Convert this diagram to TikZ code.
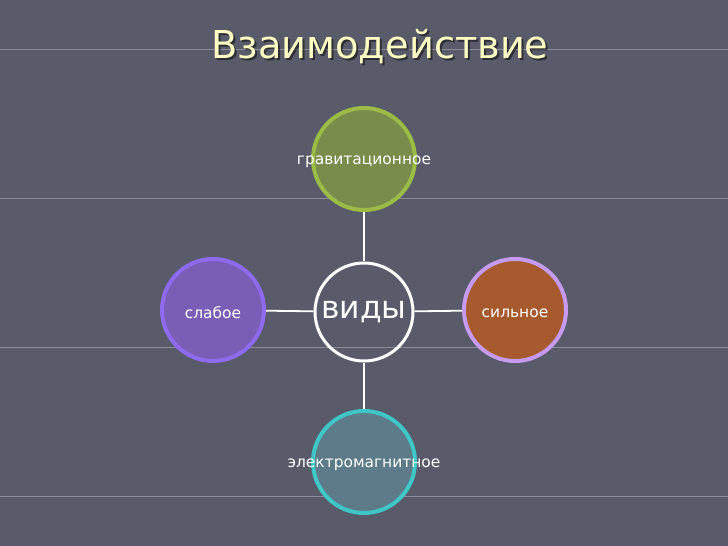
\documentclass[tikz,border=0pt]{standalone}
\usepackage{fontspec}
\setmainfont{DejaVu Sans}
\usetikzlibrary{positioning}
\definecolor{fon}{HTML}{595B6B}
\definecolor{titul}{HTML}{FFFFC4}
\definecolor{gravfill}{HTML}{7A8C4C}
\definecolor{gravline}{HTML}{9CBB46}
\definecolor{slabfill}{HTML}{7A5EB6}
\definecolor{slabline}{HTML}{8D6AEE}
\definecolor{silfill}{HTML}{A65A2E}
\definecolor{silline}{HTML}{C69AEE}
\definecolor{elfill}{HTML}{5D7B88}
\definecolor{elline}{HTML}{3FC6C6}
\tikzset{>=latex}
\tikzset{vid/.style={circle, line width=4bp, minimum size=102bp, inner sep=0pt,
    label={[text=white, yshift=-3bp, font=\fontsize{15.5}{18}\selectfont]center:#1}},
  svyaz/.style={white, line width=1.8bp}}

\begin{document}
\begin{tikzpicture}[x=1bp,y=-1bp]
    \fill[fon] (0,0) rectangle (728,546);
    \useasboundingbox (0,0) rectangle (728,546);
    \foreach \y in {49,198,347,496}
      \draw[white, opacity=0.3, line width=0.7bp] (0,\y) -- (728,\y);
    % title
    \node[text=black, opacity=0.5, font=\fontsize{38.5}{42}\selectfont] (tenj) at (382,49) {Взаимодействие};
    \node[text=titul, font=\fontsize{38.5}{42}\selectfont] (zagolovok) at (380,47) {Взаимодействие};
    % circles
    \node[circle, draw=white, line width=3bp, minimum size=98bp, inner sep=0pt,
      text=white, font=\fontsize{31.5}{34}\selectfont] (vidy) at (364,312) {виды};
    \node[vid=гравитационное, draw=gravline, fill=gravfill] (grav) at (364,159) {};
    \node[vid=слабое, draw=slabline, fill=slabfill] (slab) at (213,310) {};
    \node[vid=сильное, draw=silline, fill=silfill] (sil) at (515,310) {};
    \node[vid=электромагнитное, draw=elline, fill=elfill] (elmag) at (364,462) {};
    \draw[svyaz] (vidy) -- (grav);
    \draw[svyaz] (vidy) -- (slab);
    \draw[svyaz] (vidy) -- (sil);
    \draw[svyaz] (vidy) -- (elmag);
\end{tikzpicture}
\end{document}
